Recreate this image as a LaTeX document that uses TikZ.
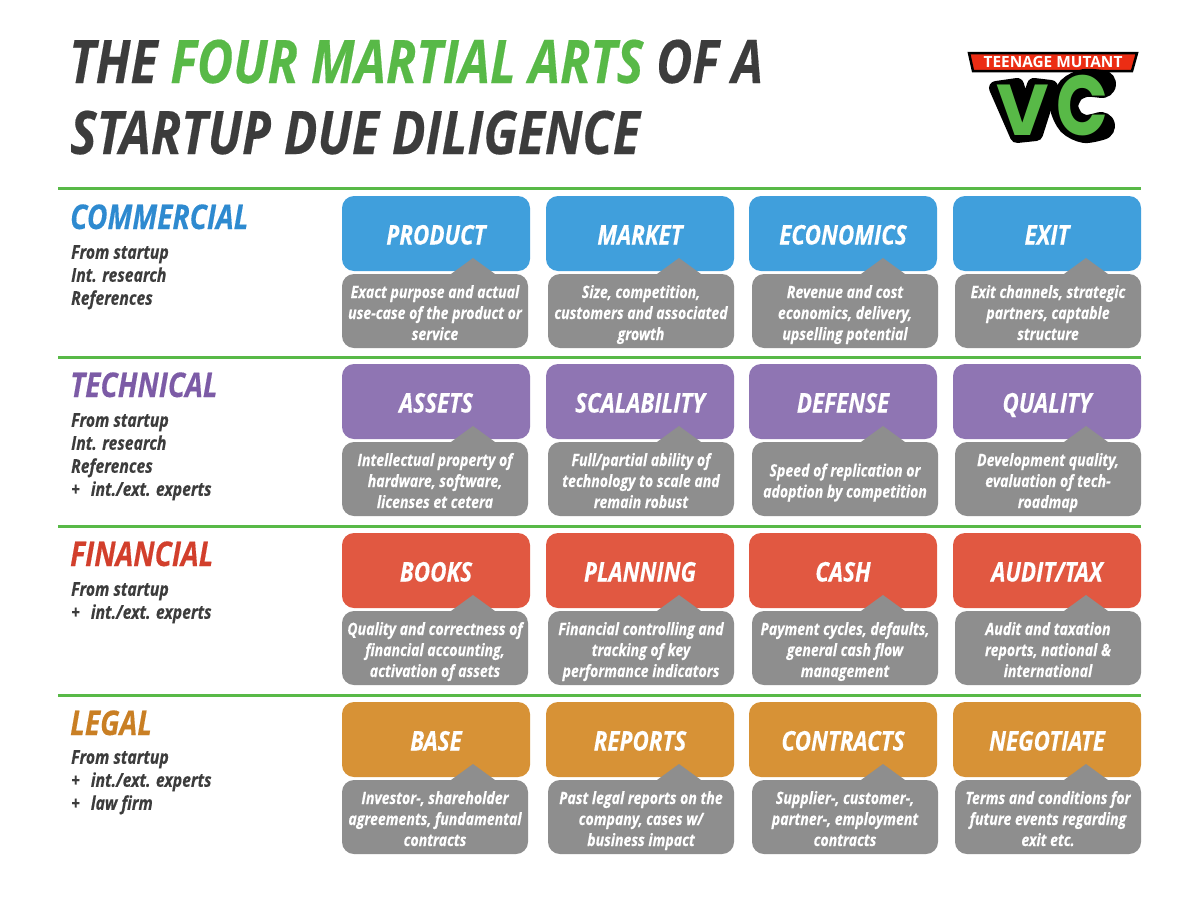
\documentclass[tikz,border=0pt]{standalone}
\usepackage{fontspec}
\setmainfont{Open Sans}[FakeStretch=0.83,FakeBold=0.3]
\newfontfamily\logofont{Poppins}[UprightFont=* Bold]
\newfontfamily\bannerfont{Open Sans}
\definecolor{cblue}{HTML}{409FDC}
\definecolor{cpurple}{HTML}{8F75B3}
\definecolor{cred}{HTML}{E15841}
\definecolor{corange}{HTML}{D79236}
\definecolor{cgrey}{HTML}{8E8E8E}
\definecolor{cgreen}{HTML}{58B947}
\definecolor{cdark}{HTML}{3C3C3C}
\definecolor{hblue}{HTML}{2E8AD0}
\definecolor{hpurple}{HTML}{7C5BA6}
\definecolor{hred}{HTML}{D23F2C}
\definecolor{horange}{HTML}{C97F24}
\definecolor{lred}{HTML}{EC2D14}
\newcommand{\pl}{+\hspace{11pt}}
\tikzset{
  hd/.style={anchor=center,text=white,inner sep=0pt,rounded corners=12pt,minimum height=75pt,minimum width=188pt,text height=22pt,text depth=0pt,font=\bfseries\itshape\fontsize{27}{30}\selectfont},
  desc/.style={anchor=center,fill=cgrey,text=white,inner sep=0pt,rounded corners=12pt,minimum height=74pt,minimum width=186pt,align=center,font=\bfseries\itshape\fontsize{17}{21}\selectfont},
  rule/.style={cgreen,line width=3pt},
  sect/.style={anchor=base west,inner sep=0pt,font=\bfseries\itshape\fontsize{34}{36}\selectfont},
  src/.style={anchor=north west,inner sep=0pt,align=left,text=cdark,font=\bfseries\itshape\fontsize{19}{23}\selectfont},
  ttl/.style={anchor=base west,inner sep=0pt,text=cdark,font=\bfseries\itshape\fontsize{60}{66}\selectfont},
}
% #1 name, #2 header left x, #3 grey left x, #4 row top y, #5 colour, #6 header, #7 description
\newcommand{\cell}[7]{%
  \node[hd,fill=#5] (h#1) at ({#2+94},{#4+37.5}) {#6};
  \node[desc] (d#1) at ({#3+93},{#4+115}) {\rule{0pt}{21pt}#7\rule[-5pt]{0pt}{5pt}};
  \path[fill=cgrey] ({#3+109},{#4+78}) -- ({#3+131},{#4+62}) -- ({#3+153},{#4+78}) -- cycle;
}
\begin{document}
\begin{tikzpicture}[x=1pt,y=-1pt]
\useasboundingbox (0,0) rectangle (1200,900);
\fill[white] (0,0) rectangle (1200,900);
\node[ttl] (t1) at (69,83) {THE \textcolor{cgreen}{FOUR MARTIAL ARTS} OF A};
\node[ttl] (t2) at (70,154) {STARTUP DUE DILIGENCE};

% logo
\path[fill=lred,draw=black,line width=2.5pt] (969,53) -- (1137,53) -- (1132,71) -- (973,71) -- cycle;
\node[text=white,inner sep=0pt,font=\bannerfont\bfseries\fontsize{15.4}{15.4}\selectfont] (lg) at (1053,62) {TEENAGE MUTANT};
\path[fill=black,draw=black,line width=14pt,line join=round] (996,88) -- (1017,85) -- (1025,112) -- (1034,85) -- (1051,87) -- (1036,134) -- (1017,136) -- cycle;
\draw[black,line width=28pt,line cap=round] plot[smooth] coordinates {(1102,84) (1085,83) (1071,90) (1064,106) (1071,122) (1085,129) (1101,126)};
\node[text=cgreen,inner sep=0pt,font=\logofont\fontsize{72}{72}\selectfont] (lv) at (1023,110) {V};
\node[text=cgreen,inner sep=0pt,xscale=0.8,font=\logofont\fontsize{85}{85}\selectfont] (lc) at (1082,106) {C};

% rules
\foreach \n/\y in {a/188,b/357,c/526,d/695}{
  \coordinate (r\n l) at (58,\y);
  \coordinate (r\n r) at (1141,\y);
  \draw[rule] (r\n l) -- (r\n r);
}

% section labels
\node[sect,text=hblue] (s1) at (70,229) {COMMERCIAL};
\node[src] (f1) at (71,245) {From startup\\Int. research\\References};
\node[sect,text=hpurple] (s2) at (70,397) {TECHNICAL};
\node[src] (f2) at (71,413) {From startup\\Int. research\\References\\\pl int./ext. experts};
\node[sect,text=hred] (s3) at (70,566) {FINANCIAL};
\node[src] (f3) at (71,582) {From startup\\\pl int./ext. experts};
\node[sect,text=horange] (s4) at (70,735) {LEGAL};
\node[src] (f4) at (71,750) {From startup\\\pl int./ext. experts\\\pl law firm};

\cell{a1}{342}{342}{196}{cblue}{PRODUCT}{Exact purpose and actual\\use-case of the product or\\service}
\cell{a2}{546}{548}{196}{cblue}{MARKET}{Size, competition,\\customers and associated\\growth}
\cell{a3}{749}{752}{196}{cblue}{ECONOMICS}{Revenue and cost\\economics, delivery,\\upselling potential}
\cell{a4}{953}{955}{196}{cblue}{EXIT}{Exit channels, strategic\\partners, captable\\structure}

\cell{b1}{342}{342}{364}{cpurple}{ASSETS}{Intellectual property of\\hardware, software,\\licenses et cetera}
\cell{b2}{546}{548}{364}{cpurple}{SCALABILITY}{Full/partial ability of\\technology to scale and\\remain robust}
\cell{b3}{749}{752}{364}{cpurple}{DEFENSE}{Speed of replication or\\adoption by competition}
\cell{b4}{953}{955}{364}{cpurple}{QUALITY}{Development quality,\\evaluation of tech-\\roadmap}

\cell{c1}{342}{342}{533}{cred}{BOOKS}{Quality and correctness of\\financial accounting,\\activation of assets}
\cell{c2}{546}{548}{533}{cred}{PLANNING}{Financial controlling and\\tracking of key\\performance indicators}
\cell{c3}{749}{752}{533}{cred}{CASH}{Payment cycles, defaults,\\general cash flow\\management}
\cell{c4}{953}{955}{533}{cred}{AUDIT/TAX}{Audit and taxation\\reports, national \&\\international}

\cell{d1}{342}{342}{702}{corange}{BASE}{Investor-, shareholder\\agreements, fundamental\\contracts}
\cell{d2}{546}{548}{702}{corange}{REPORTS}{Past legal reports on the\\company, cases w/\\business impact}
\cell{d3}{749}{752}{702}{corange}{CONTRACTS}{Supplier-, customer-,\\partner-, employment\\contracts}
\cell{d4}{953}{955}{702}{corange}{NEGOTIATE}{Terms and conditions for\\future events regarding\\exit etc.}
\end{tikzpicture}
\end{document}
